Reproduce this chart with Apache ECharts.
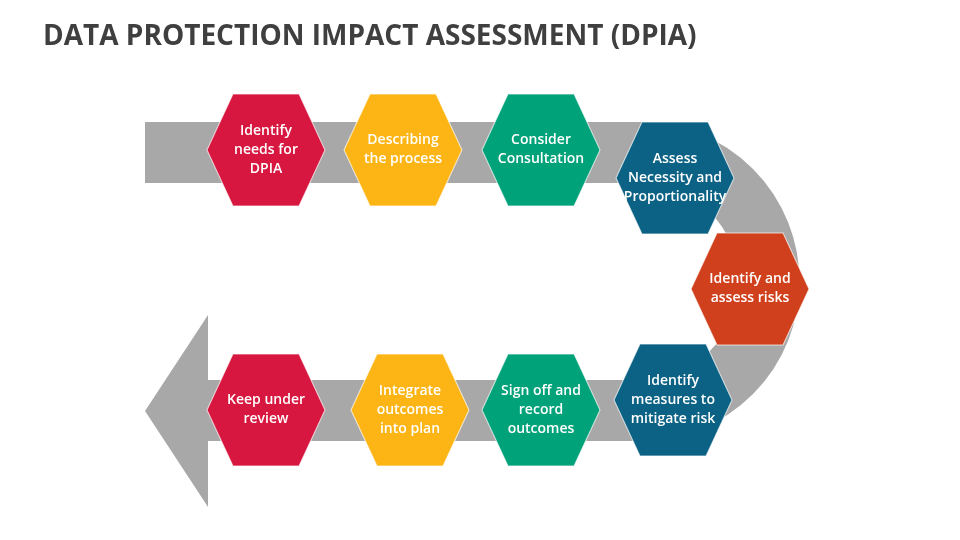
<!DOCTYPE html>
<html><head><meta charset="utf-8">
<script src="https://cdn.jsdelivr.net/npm/echarts@6/dist/echarts.min.js"></script>
<style>html,body{margin:0;padding:0;background:#fff}#c{width:960px;height:540px}</style>
</head><body><div id="c"></div>
<script>
const steps = ['Identify\nneeds for\nDPIA','Describing\nthe process','Consider\nConsultation','Assess\nNecessity and\nProportionality','Identify and\nassess risks','Identify\nmeasures to\nmitigate risk','Sign off and\nrecord\noutcomes','Integrate\noutcomes\ninto plan','Keep under\nreview'];
const stepX = [266,403,541,675,750,673,541,410,266];
const stepY = [150,150,150,178,289,400,410,410,410];
const colors = ['#d7173f','#fdb515','#00a27a','#0b6284','#d0401c','#0b6284','#00a27a','#fdb515','#d7173f'];
const title = 'DATA PROTECTION IMPACT ASSESSMENT (DPIA)';

const chart = echarts.init(document.getElementById('c'));
const hex = 'path://M0,50 L22,0 L78,0 L100,50 L78,100 L22,100 Z';
const gray = '#a8a8a8';
chart.setOption({
  animation:false,
  title:{text:title,left:38,top:18,textStyle:{fontFamily:'Open Sans',fontWeight:'bold',fontSize:28,color:'#3f3f3f'}},
  grid:{left:0,right:0,top:0,bottom:0},
  xAxis:{type:'value',min:0,max:960,show:false},
  yAxis:{type:'value',min:0,max:540,inverse:true,show:false},
  graphic:[
    {type:'rect',z:0,shape:{x:145,y:122,width:496,height:61},style:{fill:gray}},
    {type:'rect',z:0,shape:{x:207,y:380,width:434,height:61},style:{fill:gray}},
    {type:'arc',z:0,shape:{cx:640,cy:281.5,r:129,startAngle:-Math.PI/2,endAngle:Math.PI/2,clockwise:true},style:{stroke:gray,lineWidth:61,fill:null}},
    {type:'polygon',z:0,shape:{points:[[208,315],[208,507],[145,411]]},style:{fill:gray}}
  ],
  series:[{
    type:'scatter',
    symbol:hex,
    symbolSize:[118,112],
    symbolKeepAspect:false,
    data:steps.map((s,i)=>({value:[stepX[i],stepY[i]],name:s,itemStyle:{color:colors[i]}})),
    itemStyle:{borderColor:'rgba(255,255,255,0.7)',borderWidth:1,opacity:1},
    label:{show:true,position:'inside',formatter:p=>p.name,color:'#fff',fontFamily:'Open Sans',fontSize:14,lineHeight:19,fontWeight:'600'}
  }]
});
</script></body></html>
